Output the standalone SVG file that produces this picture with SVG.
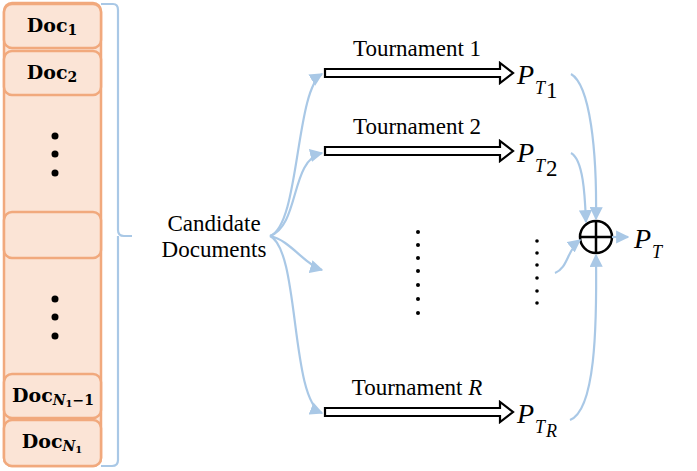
<svg xmlns="http://www.w3.org/2000/svg" width="697" height="471" viewBox="0 0 697 471">
<style>
.box{fill:#fbe4d6;stroke:#f1a97d;stroke-width:2.5}
.doc{font-family:"DejaVu Serif",serif;font-weight:bold;font-size:19px;fill:#000}
.sub{font-size:14px}
.t{font-family:"Liberation Serif","DejaVu Serif",serif;font-size:23px;fill:#000}
.pt{font-family:"Liberation Serif","DejaVu Serif",serif;font-style:italic;font-size:28px}
.ps{font-family:"Liberation Serif","DejaVu Serif",serif;font-style:italic;font-size:18px}
.c{fill:none;stroke:#a9c8e6;stroke-width:2.2}
.dbl{fill:#fff;stroke:#000;stroke-width:2.2}
</style>
<defs>
<marker id="ah" viewBox="0 0 10 10" refX="9" refY="5" markerWidth="6" markerHeight="6" orient="auto"><path d="M0,0 L10,5 L0,10 z" fill="#a9c8e6"/></marker>
<path id="da" d="M0,-4 H175 V-10 L188,0 L175,10 V4 H0 Z"/>
</defs>
<g id="docs">
<rect class="box" x="4" y="3" width="97" height="463" rx="8"/>
<rect class="box" x="4" y="4" width="97" height="44" rx="8"/>
<text class="doc" x="52" y="32" text-anchor="middle">Doc<tspan class="sub" dy="3">1</tspan></text>
<rect class="box" x="4" y="51" width="97" height="44" rx="8"/>
<text class="doc" x="52" y="79" text-anchor="middle">Doc<tspan class="sub" dy="3">2</tspan></text>
<circle cx="55" cy="136" r="3.5"/><circle cx="55" cy="154" r="3.5"/><circle cx="55" cy="173" r="3.5"/>
<rect class="box" x="4" y="212" width="97" height="46" rx="8"/>
<circle cx="55" cy="299" r="3.5"/><circle cx="55" cy="317" r="3.5"/><circle cx="55" cy="336" r="3.5"/>
<rect class="box" x="4" y="374" width="97" height="44" rx="8"/>
<text class="doc" x="53" y="402" text-anchor="middle" font-size="17">Doc<tspan class="sub" font-style="italic" dy="3">N</tspan><tspan font-size="10" dy="2">1</tspan><tspan class="sub" dy="-2">−1</tspan></text>
<rect class="box" x="4" y="420" width="97" height="46" rx="8"/>
<text class="doc" x="52" y="448" text-anchor="middle">Doc<tspan class="sub" font-style="italic" dy="3">N</tspan><tspan font-size="10" dy="2">1</tspan></text>
</g>
<g id="bracket">
<path class="c" d="M101,4 H113 Q118,4 118,10 V230 Q118,236 124,236 H132 M118,236 Q118,236 118,242 V460 Q118,466 112,466 H101"/>
<text class="t" x="214" y="231" text-anchor="middle" font-size="21">Candidate</text>
<text class="t" x="214" y="257" text-anchor="middle" font-size="21">Documents</text>
</g>
<g id="tournaments">
<use href="#da" class="dbl" x="325" y="73"/>
<text class="t" x="417" y="56" text-anchor="middle">Tournament 1</text>
<use href="#da" class="dbl" x="325" y="151"/>
<text class="t" x="417" y="134" text-anchor="middle">Tournament 2</text>
<use href="#da" class="dbl" x="325" y="412"/>
<text class="t" x="417" y="395" text-anchor="middle">Tournament <tspan font-style="italic">R</tspan></text>
<text class="pt" x="517" y="84">P</text><text class="ps" x="535" y="94">T</text><text class="t" x="546" y="98" font-size="13">1</text>
<text class="pt" x="517" y="162">P</text><text class="ps" x="535" y="172">T</text><text class="t" x="546" y="176" font-size="13">2</text>
<text class="pt" x="517" y="423">P</text><text class="ps" x="535" y="433">T</text><text class="ps" x="546" y="437" font-size="13">R</text>
<g fill="#000">
<circle cx="418" cy="232" r="2"/><circle cx="418" cy="245" r="2"/><circle cx="418" cy="258" r="2"/><circle cx="418" cy="271" r="2"/><circle cx="418" cy="285" r="2"/><circle cx="418" cy="299" r="2"/><circle cx="418" cy="313" r="2"/>
<circle cx="537" cy="241" r="1.8"/><circle cx="537" cy="253" r="1.8"/><circle cx="537" cy="265" r="1.8"/><circle cx="537" cy="278" r="1.8"/><circle cx="537" cy="291" r="1.8"/><circle cx="537" cy="303" r="1.8"/>
</g>
</g>
<g id="sum">
<circle cx="596" cy="237" r="16" fill="#fff" stroke="#000" stroke-width="2.5"/>
<path d="M580,237 H612 M596,221 V253" stroke="#000" stroke-width="2.5"/>
<text class="pt" x="634" y="248">P</text><text class="ps" x="652" y="258">T</text>
</g>
<g id="connectors">
<path class="c" marker-end="url(#ah)" d="M270,236 C300,225 295,90 322,74"/>
<path class="c" marker-end="url(#ah)" d="M270,236 C300,225 290,160 322,153"/>
<path class="c" marker-end="url(#ah)" d="M270,236 C290,240 305,265 322,270"/>
<path class="c" marker-end="url(#ah)" d="M270,236 C300,250 290,400 322,413"/>
<path class="c" marker-end="url(#ah)" d="M571,74 C590,85 597,150 596,219"/>
<path class="c" marker-end="url(#ah)" d="M571,153 C584,160 585,200 586,222"/>
<path class="c" marker-end="url(#ah)" d="M555,273 C568,268 567,250 580,240"/>
<path class="c" marker-end="url(#ah)" d="M570,420 C595,410 597,330 596,255"/>
<path class="c" marker-end="url(#ah)" d="M612,237 H628"/>
</g>
</svg>
